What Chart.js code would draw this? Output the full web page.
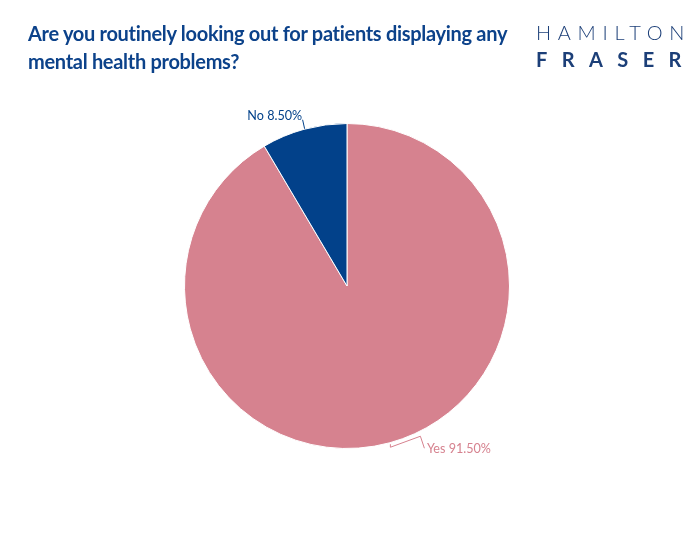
<!DOCTYPE html>
<html>
<head>
<meta charset="utf-8">
<script src="https://cdn.jsdelivr.net/npm/chart.js@4.4.0/dist/chart.umd.min.js"></script>
<style>
  html, body { margin: 0; padding: 0; background: #ffffff; }
  #wrap { position: relative; width: 700px; height: 550px; overflow: hidden; }
  #chart { position: absolute; left: 0; top: 0; }
  #title { position: absolute; left: 28px; top: 19px; width: 520px; font-family: Lato, sans-serif; font-weight: 700; font-size: 20px; letter-spacing: -0.3px; line-height: 28px; color: #0c428a; white-space: nowrap; }
  .logo { position: absolute; left: 536px; font-family: Lato, sans-serif; color: #1c3f78; white-space: nowrap; }
  #logo1 { top: 20px; font-size: 20px; font-weight: 300; letter-spacing: 6.7px; }
  #logo2 { top: 47px; font-size: 20px; font-weight: 700; letter-spacing: 14.4px; }
</style>
</head>
<body>
<div id="wrap">
  <canvas id="chart" width="700" height="550"></canvas>
  <div id="title">Are you routinely looking out for patients displaying any<br>mental health problems?</div>
  <div class="logo" id="logo1">HAMILTON</div>
  <div class="logo" id="logo2">FRASER</div>
</div>
<script>
const categories = ["Yes", "No"];
const values = [91.5, 8.5];
const labelTexts = ["Yes 91.50%", "No 8.50%"];
const colors = ["#d6828f", "#02418a"];

const labelPlugin = {
  id: 'pieLabels',
  afterDatasetsDraw(chart) {
    const ctx = chart.ctx;
    const meta = chart.getDatasetMeta(0);
    meta.data.forEach((arc, i) => {
      const p = arc.getProps(['x', 'y', 'startAngle', 'endAngle', 'outerRadius'], true);
      const mid = (p.startAngle + p.endAngle) / 2;
      const r = p.outerRadius;
      const ex = p.x + r * Math.cos(mid);
      const ey = p.y + r * Math.sin(mid);
      ctx.save();
      ctx.strokeStyle = colors[i];
      ctx.fillStyle = colors[i];
      ctx.lineWidth = 1;
      ctx.font = '12.6px Lato, sans-serif';
      ctx.textBaseline = 'middle';
      ctx.beginPath();
      if (Math.cos(mid) >= 0) {
        ctx.moveTo(ex + 0.5, ey + 1.5);
        ctx.lineTo(ex + 0.5, ey + 4.5);
        ctx.lineTo(ex + 30.5, ey - 6.5);
        ctx.lineTo(ex + 34.5, ey + 5.5);
        ctx.stroke();
        ctx.textAlign = 'left';
        ctx.fillText(labelTexts[i], ex + 37, ey + 6);
      } else {
        ctx.moveTo(ex + 0.5, ey - 0.5);
        ctx.lineTo(ex - 1.5, ey - 9.5);
        ctx.stroke();
        ctx.textAlign = 'right';
        ctx.fillText(labelTexts[i], ex - 2, ey - 13);
      }
      ctx.restore();
    });
  }
};

new Chart(document.getElementById('chart'), {
  type: 'pie',
  data: {
    labels: categories,
    datasets: [{
      data: values,
      backgroundColor: colors,
      borderColor: '#ffffff',
      borderWidth: 1
    }]
  },
  options: {
    responsive: false,
    animation: false,
    layout: { padding: { top: 123, bottom: 101, left: 184, right: 190 } },
    plugins: { legend: { display: false }, tooltip: { enabled: false } }
  },
  plugins: [labelPlugin]
});
</script>
</body>
</html>
